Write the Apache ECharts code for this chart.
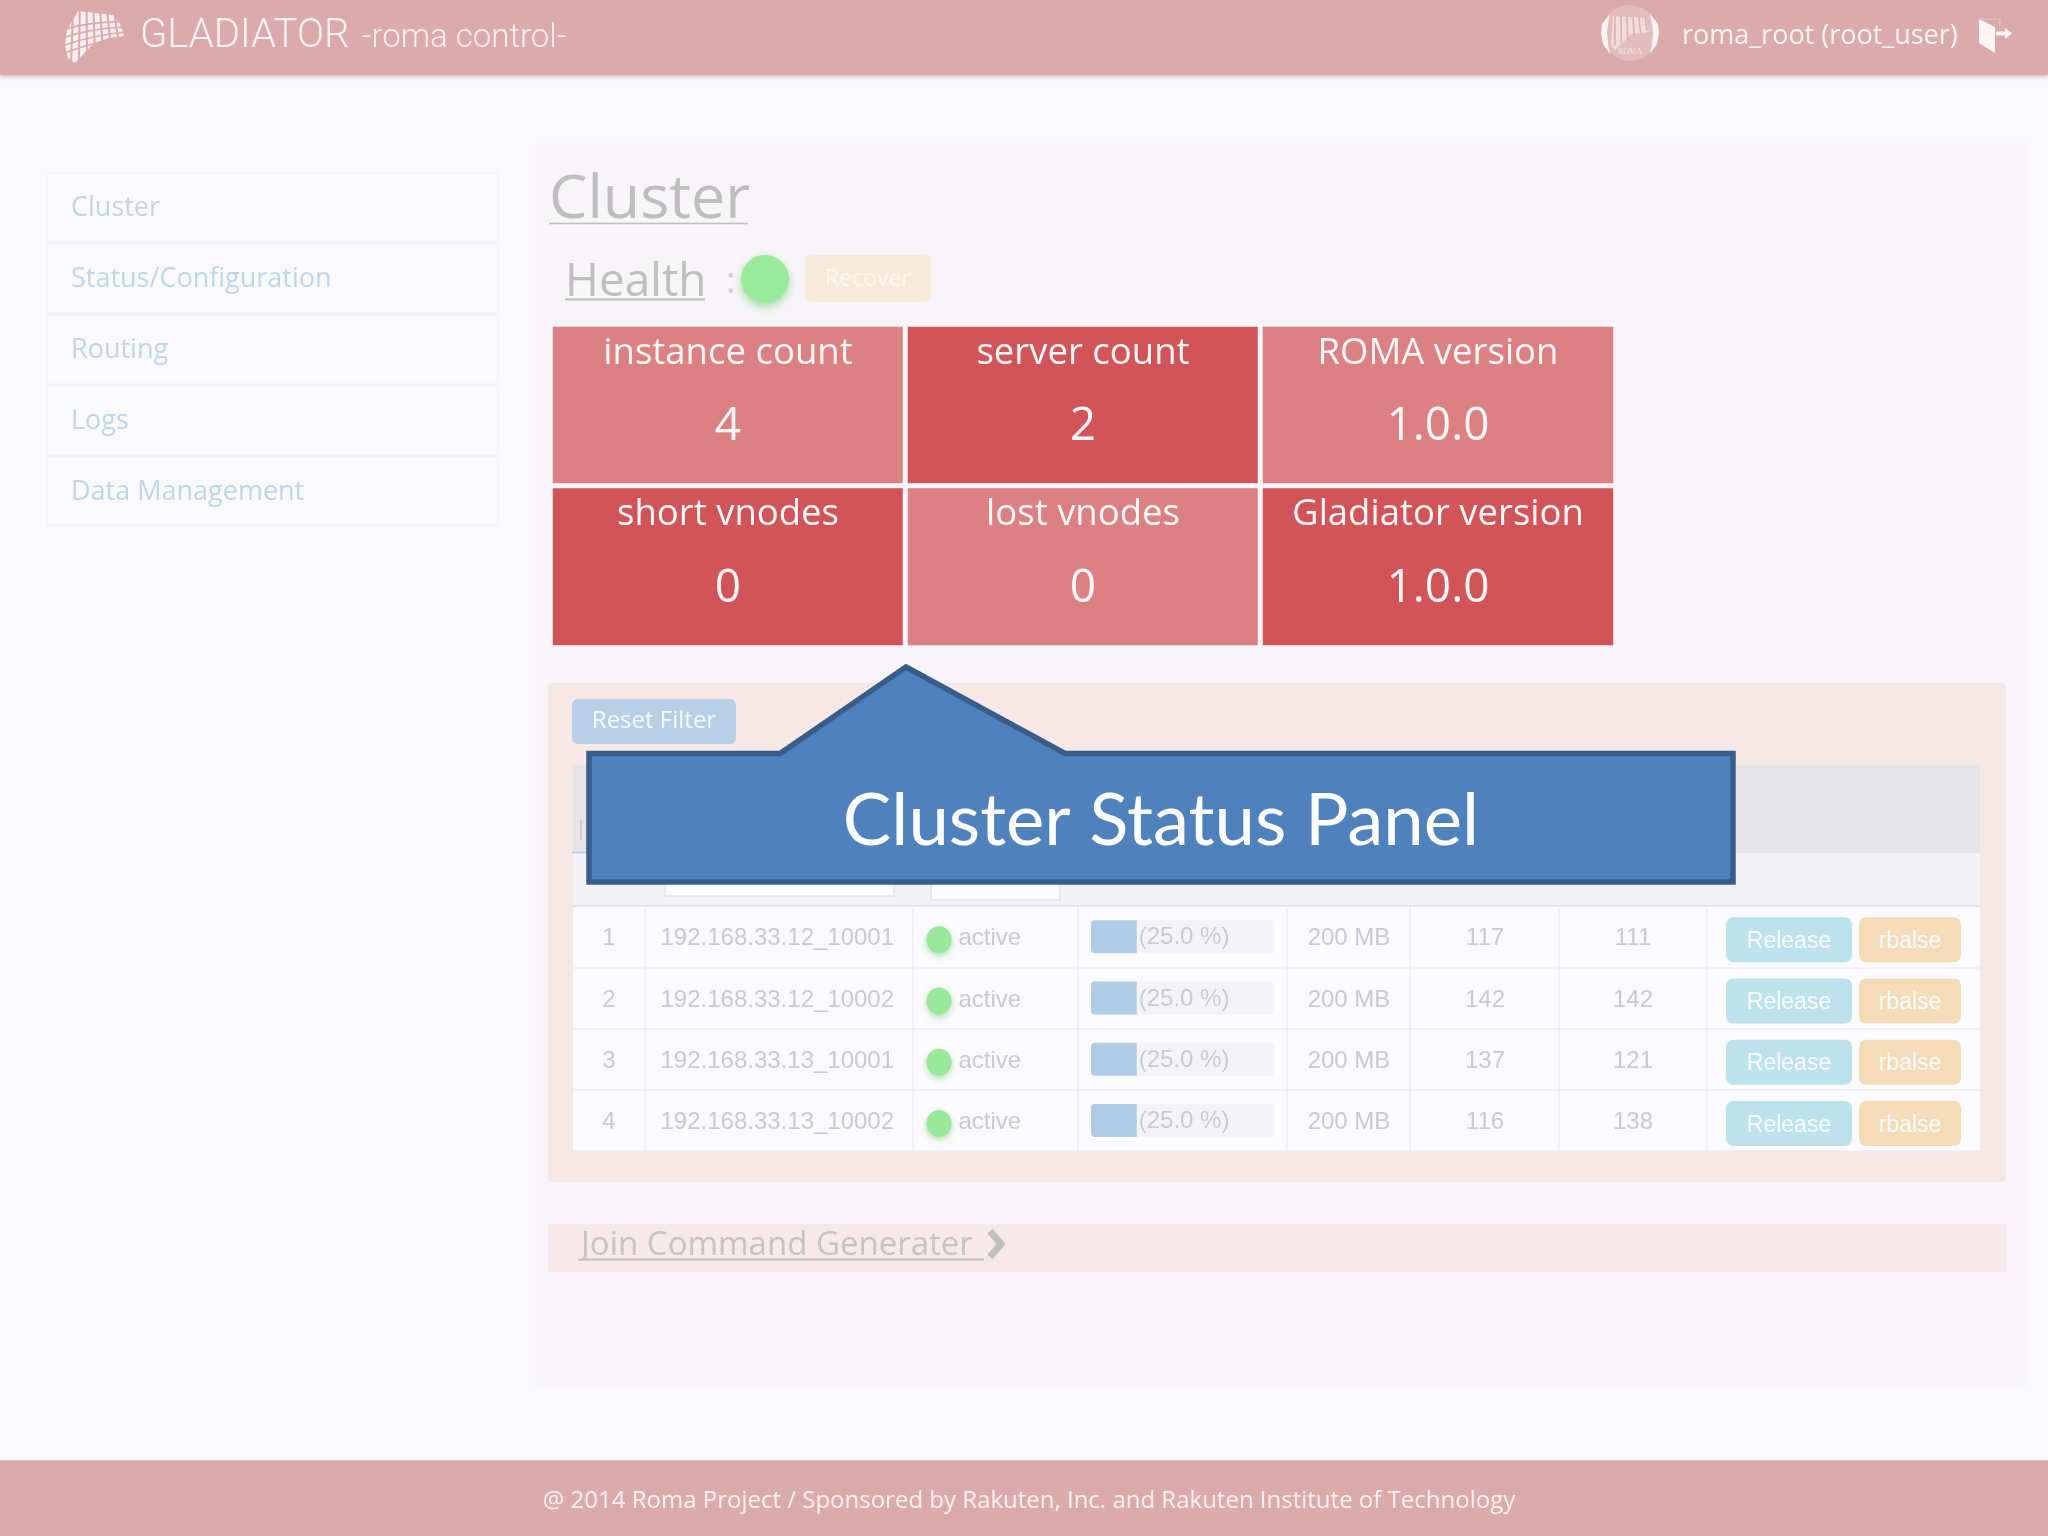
<!DOCTYPE html>
<html lang="en">
<head>
    <meta charset="UTF-8">
    <title>Gladiator - Cluster Status Panel</title>
    <script src="https://cdn.jsdelivr.net/npm/echarts@6/dist/echarts.min.js"></script>
    <style>
        html, body { margin: 0; padding: 0; background: #f9f8fb; }
        #main { width: 2048px; height: 1536px; }
    </style>
</head>
<body>
<div id="main"></div>
<script>
    // status panel cells
    var panelColumns = ['c1', 'c2', 'c3'];
    var panelRows = ['r1', 'r2'];
    var panelTitles = [['instance count', 'server count', 'ROMA version'], ['short vnodes', 'lost vnodes', 'Gladiator version']];
    var panelValues = [['4', '2', '1.0.0'], ['0', '0', '1.0.0']];
    var panelColors = [['#db8083', '#d15558', '#db8083'], ['#d15558', '#db8083', '#d15558']];

    // instance table
    var rowNumbers = ['1', '2', '3', '4'];
    var instanceNames = ['192.168.33.12_10001', '192.168.33.12_10002', '192.168.33.13_10001', '192.168.33.13_10002'];
    var instanceStatus = ['active', 'active', 'active', 'active'];
    var memoryUsage = [25.0, 25.0, 25.0, 25.0];
    var memorySize = ['200 MB', '200 MB', '200 MB', '200 MB'];
    var primaryVnodes = [117, 142, 137, 116];
    var secondaryVnodes = [111, 142, 121, 138];
    var releaseButtons = ['Release', 'Release', 'Release', 'Release'];
    var rbalseButtons = ['rbalse', 'rbalse', 'rbalse', 'rbalse'];

    // page text
    var menuItems = ['Cluster', 'Status/Configuration', 'Routing', 'Logs', 'Data Management'];

    var SANS = '"Open Sans", sans-serif';
    var HEAD = '#dbaaab';
    var GREY_TEXT = '#c1bdc1';

    var chart = echarts.init(document.getElementById('main'), null, { renderer: 'canvas' });

    function box(x, y, w, h, fill, z, r, extra) {
        return {
            type: 'rect', z: z, silent: true,
            shape: { x: x, y: y, width: w, height: h, r: r || 0 },
            style: Object.assign({ fill: fill }, extra || {})
        };
    }
    function txt(x, y, text, font, fill, z, align) {
        return {
            type: 'text', z: z, silent: true,
            style: { x: x, y: y, text: text, font: font, fill: fill, textAlign: align || 'left', textVerticalAlign: 'middle' }
        };
    }
    function rule(x1, x2, y, color, width, z) {
        return { type: 'line', z: z, silent: true, shape: { x1: x1, y1: y, x2: x2, y2: y }, style: { stroke: color, lineWidth: width } };
    }
    function poly(points, fill, z) {
        return { type: 'polygon', z: z, silent: true, shape: { points: points }, style: { fill: fill } };
    }
    function curve(x1, y1, cx, cy, x2, y2, stroke, width, z) {
        return {
            type: 'bezierCurve', z: z, silent: true,
            shape: { x1: x1, y1: y1, cpx1: cx, cpy1: cy, x2: x2, y2: y2 },
            style: { fill: 'none', stroke: stroke, lineWidth: width }
        };
    }

    var elements = [];

    // page blocks behind the series
    elements.push(box(535, 143, 1492, 1244, '#f7f5f8', -10));
    elements.push(box(548, 683, 1458, 499, '#f7e8e8', -9, 4));
    elements.push(box(548, 1224, 1459, 48, '#f7e8e9', -9));
    elements.push(box(573, 765, 1407, 89, '#e6e6e9', -8));
    elements.push(box(573, 853, 1407, 53, '#f3f2f5', -8));
    elements.push(rule(572, 600, 852.5, '#b8cfe5', 2, -7));
    elements.push(box(580, 820, 2, 20, '#c9c9cc', -7));
    elements.push(box(665, 860, 229, 36, '#fbfafc', -7, 0, { stroke: '#e6e5e8', lineWidth: 1.5 }));
    elements.push(box(931, 860, 129, 40, '#fbfafc', -7, 0, { stroke: '#e6e5e8', lineWidth: 1.5 }));

    // header and footer
    elements.push(box(0, 0, 2048, 75, HEAD, -5, 0, { shadowBlur: 4, shadowOffsetY: 1, shadowColor: 'rgba(190,120,120,0.6)' }));
    elements.push(box(0, 1461, 2048, 75, HEAD, -5));
    elements.push(rule(0, 2048, 1461, '#d0a5a5', 1.5, -4));
    elements.push(txt(140, 36.5, 'GLADIATOR', '300 40px Roboto, sans-serif', '#fbf3f3', 1));
    elements.push(txt(362, 38.5, '-roma control-', '300 33px Roboto, sans-serif', '#f9eeee', 1));
    elements.push(txt(1682, 36, 'roma_root (root_user)', '27px ' + SANS, '#fbf3f3', 1));
    elements.push(txt(1029, 1501, '@ 2014 Roma Project / Sponsored by Rakuten, Inc. and Rakuten Institute of Technology', '24px ' + SANS, '#fbf1f1', 1, 'center'));

    // left logo
    elements.push(poly([[78, 11], [113, 15], [120, 24], [124, 36], [108, 38], [92, 45], [75, 63], [68, 58], [65, 46], [67, 30]], '#fbeeee', 1));
    for (var i = 0; i < 8; i++) {
        elements.push({
            type: 'line', z: 2, silent: true,
            shape: { x1: 73 + i * 6.8, y1: 10, x2: 71 + i * 8, y2: 64 - i * 3.2 },
            style: { stroke: HEAD, lineWidth: 2 }
        });
    }
    for (var j = 0; j < 4; j++) {
        elements.push(curve(62, 30 + j * 8, 92, 21 + j * 7, 126, 22 + j * 5, HEAD, 1.6, 2));
    }

    // right logo
    elements.push({ type: 'circle', z: 1, silent: true, shape: { cx: 1630, cy: 33, r: 28 }, style: { fill: '#e3bcbd' } });
    elements.push(poly([[1610, 14], [1602, 24], [1601, 33], [1603, 44], [1610, 54], [1608, 44], [1607, 33], [1608, 24]], '#fbf3f3', 2));
    elements.push(poly([[1650, 14], [1658, 24], [1659, 33], [1657, 44], [1650, 54], [1652, 44], [1653, 33], [1652, 24]], '#fbf3f3', 2));
    elements.push(poly([[1613, 16], [1646, 18], [1649, 32], [1632, 34], [1615, 50], [1611, 44]], '#f3dcdd', 2));
    for (var k = 0; k < 6; k++) {
        elements.push({
            type: 'line', z: 3, silent: true,
            shape: { x1: 1615 + k * 6, y1: 16, x2: 1615 + k * 6.4, y2: 46 - k * 3 },
            style: { stroke: '#dcb1b2', lineWidth: 1.6 }
        });
    }
    elements.push(txt(1630, 52, 'ROMA', '8px "Liberation Serif", serif', '#f4e2e2', 3, 'center'));

    // logout door
    elements.push(poly([[1979, 19], [1995, 27], [1995, 53], [1979, 43]], '#fcf5f5', 1));
    elements.push({ type: 'polyline', z: 1, silent: true, shape: { points: [[1979, 19], [2000, 19], [2000, 27]] }, style: { stroke: '#e5c3c3', lineWidth: 1.2, fill: 'none' } });
    elements.push(rule(1996, 2006, 33.5, '#fcf5f5', 4, 1));
    elements.push(poly([[2005, 28], [2012, 33.5], [2005, 39]], '#fcf5f5', 1));

    // sidebar menu
    elements.push(box(47, 173, 451, 352, '#fafafd', -3, 3, { stroke: '#f3f2f6', lineWidth: 1.5 }));
    var menuLines = [243, 314, 385, 456];
    menuLines.forEach(function (y) { elements.push(rule(47, 498, y, '#f2f1f5', 3, -2)); });
    var menuY = [208, 279, 350, 421, 492];
    menuItems.forEach(function (name, idx) {
        elements.push(txt(71, menuY[idx], name, '27px ' + SANS, '#bdd6e9', 1));
    });

    // page headings
    elements.push(txt(549, 201, 'Cluster', '61px ' + SANS, '#bebebe', 1));
    elements.push(rule(549, 748, 223.5, '#bdbdbd', 1.5, 1));
    elements.push(txt(565, 283, 'Health', '46px ' + SANS, '#bfbfbf', 1));
    elements.push(rule(565, 705, 299.5, '#bdbdbd', 2, 1));
    elements.push(txt(726, 283, ':', '36px ' + SANS, '#cfcfcf', 1));
    elements.push({
        type: 'circle', z: 1, silent: true, shape: { cx: 765, cy: 279, r: 24 },
        style: { fill: '#9aea9b', shadowBlur: 8, shadowOffsetY: 4, shadowColor: 'rgba(120,200,120,0.6)' }
    });
    elements.push(box(805, 255, 126, 47, '#f9ebdc', 1, 6));
    elements.push(txt(868, 279, 'Recover', '23px ' + SANS, '#fdf6ef', 2, 'center'));
    elements.push(box(572, 699, 164, 45, '#b8cfe5', 1, 6));
    elements.push(txt(654, 721, 'Reset Filter', '24px ' + SANS, '#f6f9fc', 2, 'center'));

    // join command row
    elements.push(txt(581, 1246, 'Join Command Generater', '33px ' + SANS, '#c4c4c4', 1));
    elements.push(rule(581, 984, 1259.5, '#c2c2c2', 2, 1));
    elements.push({
        type: 'polyline', z: 1, silent: true,
        shape: { points: [[990, 1231], [1001, 1244], [990, 1257]] },
        style: { stroke: '#bfbfbf', lineWidth: 7, fill: 'none' }
    });

    // callout on top of everything
    elements.push({
        type: 'polygon', z: 200, silent: true,
        shape: { points: [[906, 667], [1065, 753.5], [1733, 753.5], [1733, 882], [589, 882], [589, 753.5], [780, 753.5]] },
        style: { fill: '#4f81bd', stroke: '#385d8a', lineWidth: 5.5, lineJoin: 'miter' }
    });
    elements.push(txt(1161, 822, 'Cluster Status Panel', '72.5px Lato, sans-serif', '#ffffff', 201, 'center'));

    // one label-only column of the table, x is a pixel position on the table's axis
    function labelColumn(name, x, values, position) {
        return {
            name: name, type: 'scatter', xAxisIndex: 1, yAxisIndex: 1,
            symbolSize: 1, itemStyle: { color: 'transparent' }, silent: true,
            data: values.map(function (v, idx) { return { value: [x, idx], labelText: String(v) }; }),
            label: {
                show: true, position: position, distance: 0, color: GREY_TEXT, offset: [0, 2],
                fontFamily: '"Liberation Sans", Arial, sans-serif', fontSize: 24,
                formatter: function (p) { return p.data.labelText; }
            }
        };
    }
    function buttonColumn(name, x, width, values, color) {
        return {
            name: name, type: 'scatter', xAxisIndex: 1, yAxisIndex: 1, silent: true,
            symbol: 'path://M8 0H' + (width - 8) + 'Q' + width + ' 0 ' + width + ' 8V37Q' + width + ' 45 ' + (width - 8) + ' 45H8Q0 45 0 37V8Q0 0 8 0Z',
            symbolKeepAspect: false, symbolSize: [width, 45], symbolOffset: [0, 3],
            itemStyle: { color: color, opacity: 1 },
            data: values.map(function (v, idx) { return { value: [x, idx], labelText: v }; }),
            label: {
                show: true, position: 'inside', color: '#f7fbfc', offset: [0, 2],
                fontFamily: '"Liberation Sans", Arial, sans-serif', fontSize: 23,
                formatter: function (p) { return p.data.labelText; }
            }
        };
    }

    var panelData = [];
    panelRows.forEach(function (r, ri) {
        panelColumns.forEach(function (c, ci) {
            panelData.push({
                value: [ci, ri, 1],
                title: panelTitles[ri][ci],
                shown: panelValues[ri][ci],
                itemStyle: { color: panelColors[ri][ci] }
            });
        });
    });

    var tableEdges = [645, 913, 1078, 1287, 1410, 1559, 1707];

    var option = {
        animation: false,
        backgroundColor: '#f9f8fb',
        graphic: { elements: elements },
        grid: [
            { left: 550.5, top: 324.5, width: 1065, height: 323 },
            { left: 573, top: 906, width: 1407, height: 245, show: true, backgroundColor: '#fbfafd', borderWidth: 0 },
            { left: 1091, top: 906, width: 183, height: 245 }
        ],
        xAxis: [
            { gridIndex: 0, type: 'category', data: panelColumns, show: false },
            {
                gridIndex: 1, type: 'value', min: 573, max: 1980, position: 'top',
                axisLine: { show: true, onZero: false, lineStyle: { color: '#e6e5ea', width: 2 } },
                axisTick: { show: false }, axisLabel: { show: false }, splitLine: { show: false }
            },
            { gridIndex: 2, type: 'value', min: 0, max: 100, show: false }
        ],
        yAxis: [
            { gridIndex: 0, type: 'category', data: panelRows, inverse: true, show: false },
            {
                gridIndex: 1, type: 'category', data: rowNumbers, inverse: true,
                axisLine: { show: false }, axisTick: { show: false }, axisLabel: { show: false },
                splitLine: { show: true, lineStyle: { color: '#eeedf1', width: 1.5 } }
            },
            { gridIndex: 2, type: 'category', data: rowNumbers, inverse: true, show: false }
        ],
        series: [
            {
                name: 'status panel', type: 'heatmap', xAxisIndex: 0, yAxisIndex: 0, silent: true,
                data: panelData,
                itemStyle: { borderColor: '#f8f4f7', borderWidth: 5 },
                label: {
                    show: true,
                    formatter: function (p) { return '{t|' + p.data.title + '}\n{v|' + p.data.shown + '}'; },
                    rich: {
                        t: { fontFamily: SANS, fontSize: 36.5, color: '#fdf6f6', lineHeight: 44, align: 'center' },
                        v: { fontFamily: SANS, fontSize: 46, color: '#fdf6f6', lineHeight: 104, align: 'center' }
                    }
                }
            },
            // column rules of the table
            {
                name: 'table rules', type: 'line', xAxisIndex: 1, yAxisIndex: 1, silent: true, data: [],
                markLine: {
                    silent: true, symbol: 'none', label: { show: false },
                    lineStyle: { color: '#eeedf1', width: 1.5, type: 'solid' },
                    data: tableEdges.map(function (x) { return { xAxis: x }; })
                }
            },
            labelColumn('row', 609, rowNumbers, 'inside'),
            labelColumn('instance', 660, instanceNames, 'right'),
            {
                name: 'status dot', type: 'scatter', xAxisIndex: 1, yAxisIndex: 1, silent: true,
                symbol: 'circle', symbolSize: [25, 27], symbolOffset: [0, 3],
                itemStyle: { color: '#9ae89b', opacity: 1, shadowBlur: 6, shadowOffsetY: 3, shadowColor: 'rgba(120,200,120,0.5)' },
                data: instanceStatus.map(function (s, idx) { return [939, idx]; })
            },
            labelColumn('status', 958, instanceStatus, 'right'),
            {
                name: 'memory', type: 'bar', xAxisIndex: 2, yAxisIndex: 2, silent: true,
                data: memoryUsage, barWidth: 33,
                showBackground: true,
                backgroundStyle: { color: '#f4f3f6', borderRadius: 4 },
                itemStyle: { color: '#b1cce6', borderRadius: [4, 0, 0, 4] },
                label: {
                    show: true, position: 'right', distance: 2, color: '#cdcace', offset: [0, 1],
                    fontFamily: '"Liberation Sans", Arial, sans-serif', fontSize: 24,
                    formatter: function (p) { return '(' + p.value.toFixed(1) + ' %)'; }
                }
            },
            labelColumn('size', 1349, memorySize, 'inside'),
            labelColumn('primary', 1485, primaryVnodes, 'inside'),
            labelColumn('secondary', 1633, secondaryVnodes, 'inside'),
            buttonColumn('release', 1789, 126, releaseButtons, '#bde2ec'),
            buttonColumn('rbalse', 1910, 102, rbalseButtons, '#f5dcb9')
        ]
    };

    chart.setOption(option);
</script>
</body>
</html>
